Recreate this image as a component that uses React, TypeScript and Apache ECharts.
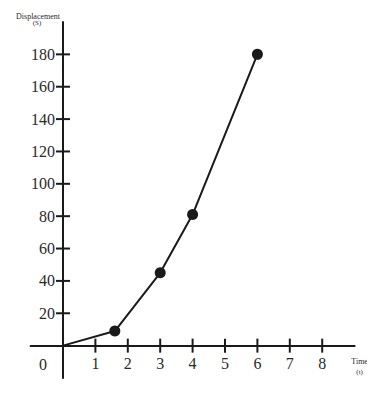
import React, { useEffect, useRef } from "react";
import * as echarts from "echarts";

const timeValues = [0, 1.6, 3, 4, 6];
const displacementValues = [0, 9, 45, 81, 180];
const xTickLabels = [1, 2, 3, 4, 5, 6, 7, 8];
const yTickLabels = [20, 40, 60, 80, 100, 120, 140, 160, 180];
const yAxisTitle = ["Displacement", "(S)"];
const xAxisTitle = ["Time", "(t)"];
const originLabel = "0";

const FONT = "'Liberation Serif', 'Times New Roman', serif";
const INK = "#1a1a1a";
const LABEL = "#2a2a2a";

export default function App() {
  const ref = useRef<HTMLDivElement>(null);
  useEffect(() => {
    if (!ref.current) return;
    const chart = echarts.init(ref.current, undefined, { renderer: "svg" });
    const lineStyle = { color: INK, width: 2 };
    const tickHalf = 7;
    const X_MIN = -1, X_MAX = 9, Y_MIN = -20, Y_MAX = 200;
    chart.setOption({
      animation: false,
      backgroundColor: "#ffffff",
      grid: { left: 30.6, right: 20.4, top: 22, bottom: 18, outerBoundsMode: "none", containLabel: false },
      xAxis: {
        type: "value",
        min: X_MIN,
        max: X_MAX,
        interval: 1,
        splitLine: { show: false },
        axisLine: { show: true, onZero: true, lineStyle },
        axisTick: { show: false },
        axisLabel: {
          customValues: xTickLabels,
          margin: 10,
          fontFamily: FONT,
          fontSize: 16,
          color: LABEL,
        },
      },
      yAxis: {
        type: "value",
        min: Y_MIN,
        max: Y_MAX,
        interval: 20,
        splitLine: { show: false },
        axisLine: { show: true, onZero: true, lineStyle },
        axisTick: { show: false },
        axisLabel: {
          customValues: yTickLabels,
          margin: 8,
          fontFamily: FONT,
          fontSize: 16,
          color: LABEL,
        },
      },
      series: [
        {
          type: "custom",
          silent: true,
          data: [
            ...xTickLabels.map((v) => [v, 0, 0]),
            ...yTickLabels.map((v) => [0, v, 1]),
          ],
          renderItem: (params: any, api: any) => {
            const p = api.coord([api.value(0), api.value(1)]);
            const isY = api.value(2) === 1;
            const shape = isY
              ? { x1: p[0] - tickHalf, y1: p[1], x2: p[0] + tickHalf, y2: p[1] }
              : { x1: p[0], y1: p[1] - tickHalf, x2: p[0], y2: p[1] + tickHalf };
            return { type: "line", shape, style: { stroke: INK, lineWidth: 2 } };
          },
          z: 1,
        },
        {
          type: "line",
          data: timeValues.map((t, i) => [t, displacementValues[i]]),
          lineStyle: { color: INK, width: 2 },
          itemStyle: { color: INK },
          symbol: "circle",
          symbolSize: (v: number[]) => (v[0] === 0 ? 0 : 11),
          showSymbol: true,
          z: 3,
        },
      ],
    });
    const origin = chart.convertToPixel({ gridIndex: 0 }, [0, 0]) as number[];
    const corner = chart.convertToPixel({ gridIndex: 0 }, [X_MIN, Y_MIN]) as number[];
    const xEnd = chart.convertToPixel({ gridIndex: 0 }, [X_MAX, 0]) as number[];
    const yEnd = chart.convertToPixel({ gridIndex: 0 }, [0, Y_MAX]) as number[];
    // ECharts keeps labels at the grid edge; shift them back next to the zero lines
    const yMargin = 8 - (origin[0] - corner[0]);
    const xMargin = 10 - (corner[1] - origin[1]);
    const small = { fontFamily: FONT, fontSize: 8, fill: LABEL, align: "center", verticalAlign: "middle" };
    chart.setOption({
      xAxis: { axisLabel: { margin: xMargin } },
      yAxis: { axisLabel: { margin: yMargin } },
      graphic: [
        {
          type: "text",
          x: origin[0] - 20,
          y: origin[1] + 19,
          style: { text: originLabel, fontFamily: FONT, fontSize: 16, fill: LABEL, align: "center", verticalAlign: "middle" },
        },
        { type: "text", x: yEnd[0] - 25, y: yEnd[1] - 6, style: { ...small, text: yAxisTitle[0] } },
        { type: "text", x: yEnd[0] - 26, y: yEnd[1] + 1, style: { ...small, fontSize: 7, text: yAxisTitle[1] } },
        { type: "text", x: xEnd[0] + 5, y: xEnd[1] + 16, style: { ...small, text: xAxisTitle[0] } },
        { type: "text", x: xEnd[0] + 5, y: xEnd[1] + 26, style: { ...small, fontSize: 7, text: xAxisTitle[1] } },
      ],
    });
    return () => chart.dispose();
  }, []);
  return <div ref={ref} style={{ width: 375, height: 396, margin: -8 }} />;
}
